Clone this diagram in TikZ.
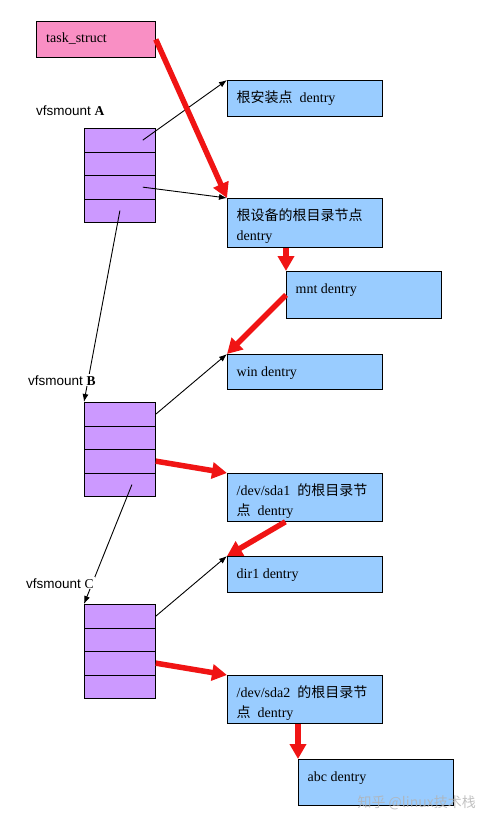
\documentclass[tikz,border=0pt]{standalone}
\usepackage{fontspec}
\setmainfont{Liberation Serif}
\newfontfamily\cjk{Noto Sans CJK SC}
\newfontfamily\lblfont{Liberation Sans}
\usetikzlibrary{arrows.meta}
\definecolor{taskpink}{HTML}{F98FC4}
\definecolor{dentryblue}{HTML}{99CCFF}
\definecolor{mountpurple}{HTML}{CC99FF}
\definecolor{pathred}{HTML}{F01414}
\tikzstyle{task_box}=[rectangle, draw=black, fill=taskpink, anchor=north west,
                      minimum width=119pt, minimum height=36pt, line width=0.8pt, inner sep=0pt]
\tikzstyle{dentry_box}=[rectangle, draw=black, fill=dentryblue, anchor=north west,
                        minimum width=155pt, line width=0.8pt, inner sep=0pt]
\tikzstyle{mount_slot}=[rectangle, draw=black, fill=mountpurple, anchor=north west,
                        minimum width=71pt, minimum height=23.5pt, line width=0.8pt, inner sep=0pt]
\tikzstyle{box_text}=[anchor=base west, inner sep=0pt, font=\fontsize{14}{16}\selectfont]
\tikzstyle{mount_label}=[anchor=base west, inner sep=1pt, fill=white, font=\lblfont\fontsize{13.5}{15}\selectfont]
\tikzstyle{red_link}=[draw=pathred, line width=5.5pt, -{Triangle[width=16pt,length=15pt]}]
\tikzstyle{black_link}=[draw=black, line width=0.9pt, -{Latex[width=6pt,length=8pt]}]

\begin{document}
\begin{tikzpicture}[x=1pt, y=-1pt]
  \useasboundingbox (0,0) rectangle (487,825);

  % task_struct
  \node at (36,21) (ts) [task_box] {};
  \node at ([xshift=10pt,yshift=-21pt]ts.north west) (tsT) [box_text] {task\_struct};

  % vfsmount A, B, C
  \foreach \m/\y in {A/128, B/402, C/604} {
    \foreach \r in {1,...,4} {
      \node at (84, \y + 23.5*\r - 23.5) (\m\r) [mount_slot] {};
    }
  }

  % dentries
  \node at (227,80)  (d1) [dentry_box, minimum height=36pt] {};
  \node at (227,198) (d2) [dentry_box, minimum height=49pt] {};
  \node at (286,271) (d3) [dentry_box, minimum height=47pt] {};
  \node at (227,354) (d4) [dentry_box, minimum height=35pt] {};
  \node at (227,473) (d5) [dentry_box, minimum height=48pt] {};
  \node at (227,556) (d6) [dentry_box, minimum height=36pt] {};
  \node at (227,675) (d7) [dentry_box, minimum height=48pt] {};
  \node at (298,759) (d8) [dentry_box, minimum height=46pt] {};

  \node at ([xshift=9.5pt,yshift=-22pt]d1.north west) (d1T) [box_text] {{\cjk 根安装点}\ \ dentry};
  \node at ([xshift=9.5pt,yshift=-22pt]d2.north west) (d2T) [box_text] {\cjk 根设备的根目录节点};
  \node at ([xshift=9.5pt,yshift=-42pt]d2.north west) (d2U) [box_text] {dentry};
  \node at ([xshift=9.5pt,yshift=-22pt]d3.north west) (d3T) [box_text] {mnt dentry};
  \node at ([xshift=9.5pt,yshift=-22pt]d4.north west) (d4T) [box_text] {win dentry};
  \node at ([xshift=9.5pt,yshift=-22pt]d5.north west) (d5T) [box_text] {/dev/sda1\ \ {\cjk 的根目录节}};
  \node at ([xshift=9.5pt,yshift=-42pt]d5.north west) (d5U) [box_text] {{\cjk 点}\ \ dentry};
  \node at ([xshift=9.5pt,yshift=-22pt]d6.north west) (d6T) [box_text] {dir1 dentry};
  \node at ([xshift=9.5pt,yshift=-22pt]d7.north west) (d7T) [box_text] {/dev/sda2\ \ {\cjk 的根目录节}};
  \node at ([xshift=9.5pt,yshift=-42pt]d7.north west) (d7U) [box_text] {{\cjk 点}\ \ dentry};
  \node at ([xshift=9.5pt,yshift=-22pt]d8.north west) (d8T) [box_text] {abc dentry};

  % black pointers
  \draw[black_link] ([xshift=-13pt]A1.east) -- (d1.north west);
  \draw[black_link] ([xshift=-13pt]A3.east) -- (d2.north west);
  \draw[black_link] (A4.center) -- (B1.north west);
  \draw[black_link] (B1.east) -- (d4.north west);
  \draw[black_link] ([xshift=12pt]B4.center) -- (C1.north west);
  \draw[black_link] (C1.east) -- (d6.north west);

  % red path
  \draw[red_link] (ts.east) -- (d2.north west);
  \draw[red_link] (d3.north west |- d2.south) -- (d3.north west);
  \draw[red_link] (d3.west) -- (d4.north west);
  \draw[red_link] (B3.east) -- (d5.north west);
  \draw[red_link] ([xshift=-19.5pt]d5.south) -- (d6.north west);
  \draw[red_link] (C3.east) -- (d7.north west);
  \draw[red_link] (d8.north west |- d7.south) -- (d8.north west);

  \node at (35,115) (labA) [mount_label] {vfsmount {\rmfamily\bfseries A}};
  \node at (27,385) (labB) [mount_label] {vfsmount {\rmfamily\bfseries B}};
  \node at (25,588) (labC) [mount_label] {vfsmount {\rmfamily C}};

  \node at (476,803) (mark) [anchor=east, inner sep=0pt, text=black!30, opacity=0.8,
                             font=\cjk\fontsize{14}{16}\selectfont] {知乎 @linux技术栈};
\end{tikzpicture}
\end{document}
